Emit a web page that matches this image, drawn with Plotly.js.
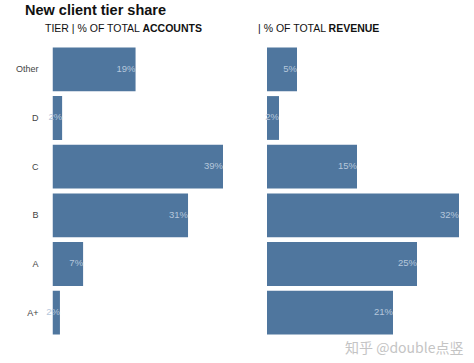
<!DOCTYPE html>
<html>
<head>
<meta charset="utf-8">
<script src="https://cdn.plot.ly/plotly-3.0.1.min.js"></script>
<style>html,body{margin:0;padding:0;background:#fff;}#chart{width:474px;height:363px;}</style>
</head>
<body>
<div id="chart"></div>
<script>
const tiers = ['Other', 'D', 'C', 'B', 'A', 'A+'];
const accountsPct = [19, 2.2, 39, 31, 7, 1.7];
const revenuePct = [5, 2, 15, 32, 25, 21];

const barColor = '#4f769e';
const labelColor = '#b5c7dc';
const fontFam = '"Liberation Sans", Arial, sans-serif';

const W = 474, H = 363;
const plotTop = 44.5, plotBottom = 337.5;
const ph = plotBottom - plotTop;
const yp = px => (plotBottom - px) / ph;
const xp = px => px / W;

const fmt = v => Math.round(v) + '%';

const traces = [
  {type: 'bar', orientation: 'h', y: tiers, x: accountsPct, xaxis: 'x', yaxis: 'y',
   marker: {color: barColor}, hoverinfo: 'skip', showlegend: false},
  {type: 'scatter', mode: 'text', y: tiers, x: accountsPct, xaxis: 'x', yaxis: 'y',
   text: accountsPct.map(fmt), textposition: 'middle left',
   textfont: {color: labelColor, size: 9.5, family: fontFam}, hoverinfo: 'skip', showlegend: false, cliponaxis: false},
  {type: 'bar', orientation: 'h', y: tiers, x: revenuePct, xaxis: 'x2', yaxis: 'y2',
   marker: {color: barColor}, hoverinfo: 'skip', showlegend: false},
  {type: 'scatter', mode: 'text', y: tiers, x: revenuePct, xaxis: 'x2', yaxis: 'y2',
   text: revenuePct.map(fmt), textposition: 'middle left',
   textfont: {color: labelColor, size: 9.5, family: fontFam}, hoverinfo: 'skip', showlegend: false, cliponaxis: false}
];

const hiddenX = {showgrid: false, zeroline: false, showticklabels: false, ticks: '', showline: false, fixedrange: true};

const layout = {
  width: W, height: H,
  margin: {l: 0, r: 0, t: plotTop, b: H - plotBottom, pad: 0},
  paper_bgcolor: '#fff', plot_bgcolor: '#fff',
  font: {family: fontFam, color: '#333'},
  bargap: 0.1,
  xaxis: Object.assign({domain: [xp(52.5), xp(223)], range: [0, 39]}, hiddenX),
  xaxis2: Object.assign({domain: [xp(267), xp(459)], range: [0, 32]}, hiddenX),
  yaxis: {categoryorder: 'array', categoryarray: tiers, autorange: 'reversed', anchor: 'x',
          showgrid: false, zeroline: false, showline: false, ticks: '',
          ticklabelstandoff: 13, tickfont: {size: 9, color: '#444', family: fontFam}},
  yaxis2: {categoryorder: 'array', categoryarray: tiers, autorange: 'reversed', anchor: 'x2',
           matches: 'y', showgrid: false, zeroline: false, showline: false, ticks: '', showticklabels: false},
  annotations: [
    {text: '<b>New client tier share</b>', xref: 'paper', yref: 'paper', x: xp(23), y: yp(9.5),
     xanchor: 'left', yanchor: 'middle', showarrow: false, font: {size: 14.5, color: '#111', family: fontFam}},
    {text: 'TIER | % OF TOTAL <b>ACCOUNTS</b>', xref: 'paper', yref: 'paper', x: xp(42.5), y: yp(27),
     xanchor: 'left', yanchor: 'middle', showarrow: false, font: {size: 10.5, color: '#111', family: fontFam}},
    {text: '| % OF TOTAL <b>REVENUE</b>', xref: 'paper', yref: 'paper', x: xp(255.5), y: yp(27),
     xanchor: 'left', yanchor: 'middle', showarrow: false, font: {size: 10.5, color: '#111', family: fontFam}},
    {text: '知乎 @double点竖', xref: 'paper', yref: 'paper', x: xp(343), y: yp(348),
     xanchor: 'left', yanchor: 'middle', showarrow: false,
     font: {size: 14, color: '#c4c4c4', family: '"Noto Sans CJK SC", "Noto Sans", sans-serif'}}
  ]
};

Plotly.newPlot('chart', traces, layout, {displayModeBar: false, staticPlot: true});
</script>
</body>
</html>
